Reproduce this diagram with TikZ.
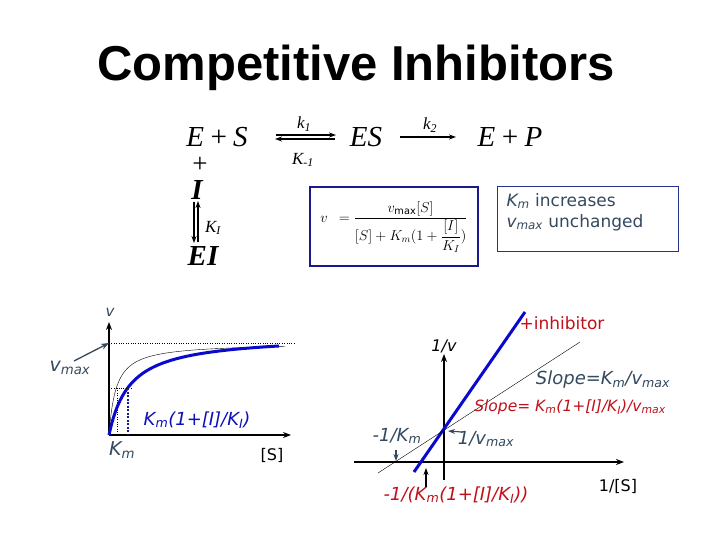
\documentclass[tikz,border=0pt]{standalone}
\usepackage{fontspec}
\setmainfont{DejaVu Sans}
\newfontfamily\titlefont{Liberation Sans}
\newfontfamily\eqfont{Liberation Serif}
\usetikzlibrary{arrows.meta}
\definecolor{slate}{HTML}{34495E}
\definecolor{redt}{HTML}{C0101A}
\definecolor{bluec}{HTML}{0A0ACC}
\definecolor{navy}{HTML}{1A1A8A}
\begin{document}
\begin{tikzpicture}[x=1pt,y=-1pt,
  eq/.style={font=\eqfont\itshape\fontsize{29}{30}\selectfont},
  sm/.style={font=\eqfont\itshape\fontsize{17}{18}\selectfont},
  lab/.style={font=\fontsize{16}{19}\selectfont},
  ar/.style={-{Stealth[length=7pt,width=5pt]},line width=1.1pt},
  ax/.style={-{Stealth[length=8pt]},line width=1.8pt}]
\useasboundingbox (0,0) rectangle (720,540);
\node[font=\titlefont\bfseries\fontsize{49}{52}\selectfont] (title) at (356,68) {Competitive Inhibitors};
% reaction
\node[eq,inner sep=0pt] (es0) at (217,137) {E\,+\,S};
\node[eq] (es) at (366,137) {ES};
\node[eq] (ep) at (510,137) {E\,+\,P};
\node[sm] (k1) at (304,124) {k\textsubscript{1}};
\node[sm] (km1) at (303,160) {K\textsubscript{-1}};
\node[sm] (k2) at (430,125) {k\textsubscript{2}};
\coordinate (a1) at (276,135); \coordinate (a2) at (336,135);
\coordinate (b1) at (275,139); \coordinate (b2) at (335,139);
\draw[ar] (a1) -- (a2);
\draw[ar] (b2) -- (b1);
\coordinate (c1) at (400,137); \coordinate (c2) at (456,137);
\draw[ar] (c1) -- (c2);
\node[font=\eqfont\fontsize{27}{27}\selectfont,inner sep=0pt] (plus) at (200,165) {+};
\node[eq,inner sep=0pt,font=\eqfont\bfseries\itshape\fontsize{29}{30}\selectfont] (I) at (197,190) {I};
\coordinate (d1) at (194,202); \coordinate (d2) at (194,243);
\coordinate (e1) at (198,242); \coordinate (e2) at (198,201);
\draw[ar] (d1) -- (d2);
\draw[ar] (e1) -- (e2);
\node[sm] (KI) at (213,228) {K\textsubscript{I}};
\node[eq,font=\eqfont\bfseries\itshape\fontsize{29}{30}\selectfont] (EI) at (203,256) {EI};
% formula box
\draw[navy,line width=2.2pt] (310,187) rectangle (478,266);
\node[font=\eqfont\fontsize{14}{16}\selectfont] (formula) at (394,227)
 {$\displaystyle v\ \ =\frac{v_{\max}[S]}{[S]+K_m(1+\displaystyle\frac{[I]}{K_I})}$};
% Km box
\draw[slate!70!blue,line width=0.8pt] (497,186) rectangle (678,251);
\node[lab,slate,align=left,anchor=west,font=\fontsize{17}{21}\selectfont] (kmtxt) at (503,212)
 {\textit{K\textsubscript{m}} increases\\\textit{v\textsubscript{max}} unchanged};
% left graph
\coordinate (o1) at (109,435);
\coordinate (yt1) at (109,322);
\coordinate (xt1) at (291,435);
\draw[ax] (o1) -- (yt1);
\draw[ax] (o1) -- (xt1);
\node[lab,font=\itshape\fontsize{15}{17}\selectfont,slate] (vl) at (110,312) {v};
\coordinate (vm1) at (109,343); \coordinate (vm2) at (295,343);
\draw[dotted] (vm1) -- (vm2);
\node[lab,slate,font=\itshape\fontsize{19}{20}\selectfont] (vmax) at (70,368) {v\textsubscript{max}};
\coordinate (vmA) at (74,361);
\draw[slate,-{Stealth[length=8pt]},line width=1.3pt] (vmA) -- (vm1);
\draw[thin,domain=0:176,samples=120,smooth] plot ({109+\x},{435-92*(\x/(7+\x))});
\draw[bluec,line width=3pt,domain=0:170,samples=120,smooth] plot ({109+\x},{435-100*(\x/(21+\x))});
\coordinate (h1) at (109,388); \coordinate (h2) at (132,388);
\draw[dotted] (h1) -- (h2);
\coordinate (kv1) at (117,388); \coordinate (kv2) at (117,435);
\draw[dotted] (kv1) -- (kv2);
\coordinate (bv1) at (128,388); \coordinate (bv2) at (128,435);
\draw[navy,line width=2pt,dash pattern=on 2pt off 1.5pt] (bv1) -- (bv2);
\node[lab,slate,font=\itshape\fontsize{19}{20}\selectfont] (Kml) at (122,450) {K\textsubscript{m}};
\node[lab,bluec!70!navy,font=\itshape\fontsize{18}{19}\selectfont] (kmi) at (197,420) {K\textsubscript{m}(1+[I]/K\textsubscript{I})};
\node[lab] (S1) at (272,455) {[S]};
% right graph
\coordinate (yb2) at (444,480);
\coordinate (yt2) at (444,354);
\coordinate (xl2) at (354,462);
\coordinate (xr2) at (624,462);
\draw[ax] (yb2) -- (yt2);
\draw[ax] (xl2) -- (xr2);
\node[lab,font=\itshape\fontsize{16}{17}\selectfont] (iv) at (444,346) {1/v};
\coordinate (bl1) at (414,472); \coordinate (bl2) at (525,312);
\draw[bluec,line width=3pt] (bl1) -- (bl2);
\coordinate (tl1) at (378,473); \coordinate (tl2) at (580,342);
\draw[thin] (tl1) -- (tl2);
\node[lab,redt,font=\fontsize{17}{18}\selectfont] (inh) at (562,323) {+inhibitor};
\node[lab,slate,font=\itshape\fontsize{18}{19}\selectfont] (s1) at (603,380) {Slope=K\textsubscript{m}/v\textsubscript{max}};
\node[lab,redt,font=\itshape\fontsize{15.5}{17}\selectfont] (s2) at (570,407) {Slope= K\textsubscript{m}(1+[I]/K\textsubscript{I})/v\textsubscript{max}};
\node[lab,slate,font=\itshape\fontsize{18}{19}\selectfont] (ivm) at (486,439) {1/v\textsubscript{max}};
\coordinate (ia1) at (462,432); \coordinate (ia2) at (448,431);
\draw[slate,ar] (ia1) -- (ia2);
\node[lab,slate,font=\itshape\fontsize{18}{19}\selectfont] (mkm) at (397,436) {-1/K\textsubscript{m}};
\coordinate (ma1) at (396,450); \coordinate (ma2) at (396,461);
\draw[slate,ar] (ma1) -- (ma2);
\coordinate (ra1) at (426,487); \coordinate (ra2) at (426,468);
\draw[ar] (ra1) -- (ra2);
\node[lab,redt,font=\itshape\fontsize{18}{19}\selectfont] (mki) at (456,495) {-1/(K\textsubscript{m}(1+[I]/K\textsubscript{I}))};
\node[lab] (S2) at (618,486) {1/[S]};
\end{tikzpicture}
\end{document}
